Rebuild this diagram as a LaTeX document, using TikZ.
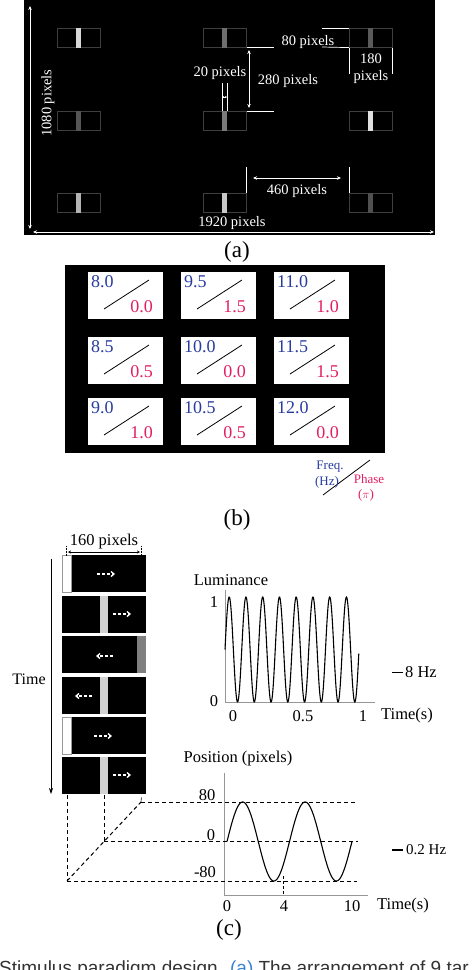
\documentclass[tikz,border=0pt]{standalone}
\usepackage{fontspec}
\setmainfont{Liberation Serif}
\newfontfamily\capfont{Liberation Sans}
\usetikzlibrary{arrows.meta}
\definecolor{freqblue}{RGB}{40,60,160}
\definecolor{phasepink}{RGB}{228,30,100}
\definecolor{axisgray}{RGB}{150,150,150}
\definecolor{boxline}{RGB}{62,62,62}
\definecolor{capblue}{RGB}{60,130,210}
\definecolor{barA}{RGB}{216,216,216}
\definecolor{barB}{RGB}{110,110,110}
\definecolor{barC}{RGB}{90,90,90}
\definecolor{barD}{RGB}{85,85,85}
\definecolor{barE}{RGB}{122,122,122}
\definecolor{barF}{RGB}{224,224,224}
\definecolor{barG}{RGB}{180,180,180}
\definecolor{barH}{RGB}{200,200,200}
\definecolor{barI}{RGB}{80,80,80}
\definecolor{lightbar}{RGB}{210,210,210}
\definecolor{midbar}{RGB}{128,128,128}
\begin{document}
\begin{tikzpicture}[x=1pt,y=-1pt,
  every node/.style={inner sep=0pt},
  wline/.style={white, line width=0.7pt},
  wdim/.style={white, line width=1pt, {Stealth[length=4pt,width=3.5pt]}-{Stealth[length=4pt,width=3.5pt]}},
  alab/.style={text=white, font=\fontsize{14.5}{16}\selectfont},
  stim/.style={draw=boxline, line width=0.6pt, minimum width=43pt, minimum height=19pt, fill=black},
  tgt/.style={fill=white, minimum width=75pt, minimum height=47pt},
  fq/.style={text=freqblue, font=\fontsize{18}{20}\selectfont, anchor=base west},
  ph/.style={text=phasepink, font=\fontsize{18}{20}\selectfont, anchor=base east},
  lg/.style={font=\fontsize{13}{14}\selectfont},
  stimframe/.style={fill=black, minimum width=84pt, minimum height=37pt},
  mv/.style={white, line width=1.3pt, dash pattern=on 3pt off 2pt, -{Straight Barb[length=3pt,width=5pt]}},
  clab/.style={font=\fontsize{16.5}{18}\selectfont},
  plab/.style={font=\fontsize{23}{24}\selectfont},
  ax/.style={axisgray, line width=0.8pt},
  dsh/.style={black, line width=1pt, dash pattern=on 4pt off 3pt},
]
\useasboundingbox (0,0) rectangle (474,970);
\fill[white] (0,0) rectangle (474,970);

% ---------------- panel (a)
\node[fill=black, anchor=north west, minimum width=411pt, minimum height=235pt] (screen) at (24,0) {};
\foreach \nm/\cx/\ry/\bc in {s1/57/28/barA, s2/203/28/barB, s3/349/28/barC,
                             s4/57/111/barD, s5/203/111/barE, s6/349/111/barF,
                             s7/57/193/barG, s8/203/193/barH, s9/349/193/barI}
{
  \node[stim, anchor=north west] (\nm) at (\cx,\ry) {};
  \draw[boxline, line width=0.6pt] (\nm.north) -- (\nm.south);
  \fill[\bc] ([xshift=-2.5pt]\nm.north) rectangle ([xshift=2.5pt]\nm.south);
}
\draw[wdim] (30,229) -- (30,6);
\node[alab, rotate=90] (h1080) at (48,103) {1080 pixels};
\draw[wdim] (33,232) -- (434,232);
\node[alab] (w1920) at (232,223) {1920 pixels};
% 80 pixels
\draw[wline] (322,28) -- (s3.north west);
\draw[wline] (322,47) -- (s3.south west);
\node[alab] (l80) at (308,42) {80 pixels};
% 180 pixels
\draw[wline] (s3.south west) -- ++(0,26);
\draw[wline] (s3.south east) -- ++(0,26);
\node[alab] (l180a) at (371,59) {180};
\node[alab] (l180b) at (371,77) {pixels};
% 280 pixels
\draw[wline] (s2.south east) -- ++(27,0);
\draw[wline] (s5.north east) -- ++(27,0);
\draw[wdim] (249,50) -- (249,108);
\node[alab] (l280) at (288,81) {280 pixels};
% 20 pixels
\draw[wline] (222,83) -- (222,111);
\draw[wline] (227,83) -- (227,111);
\draw[white, line width=0.6pt, {Stealth[length=2pt,width=2pt]}-{Stealth[length=2pt,width=2pt]}] (222,97) -- (227,97);
\node[alab] (l20) at (220,73) {20 pixels};
% 460 pixels
\draw[wline] (s8.north east) -- ++(0,-26);
\draw[wline] (s9.north west) -- ++(0,-26);
\draw[wdim] (253,178) -- (341,178);
\node[alab] (l460) at (297,191) {460 pixels};
\node[plab] (capa) at (237,252) {(a)};

% ---------------- panel (b)
\node[fill=black, anchor=north west, minimum width=320pt, minimum height=188pt] (board) at (65,265) {};
\foreach \nm/\lx/\ty/\fv/\pv in {t1/88/272/8.0/0.0, t2/181/272/9.5/1.5, t3/274/272/11.0/1.0,
                                 t4/88/337/8.5/0.5, t5/181/337/10.0/0.0, t6/274/337/11.5/1.5,
                                 t7/88/398/9.0/1.0, t8/181/398/10.5/0.5, t9/274/398/12.0/0.0}
{
  \node[tgt, anchor=north west] (\nm) at (\lx,\ty) {};
  \draw[line width=0.8pt] (\lx+16,\ty+37) -- (\lx+61,\ty+8);
  \node[fq] (\nm f) at (\lx+3,\ty+15) {\fv};
  \node[ph] (\nm p) at (\lx+65,\ty+40) {\pv};
}
\draw[line width=0.8pt] (323,495) -- (370,460);
\node[lg, text=freqblue] (lfreq) at (330,467) {Freq.};
\node[lg, text=freqblue] (lhz) at (327,482) {(Hz)};
\node[lg, text=phasepink] (lphase) at (369,479) {Phase};
\node[lg, text=phasepink] (lpi) at (366,495) {($\pi$)};
\node[plab] (capb) at (237,520) {(b)};

% ---------------- panel (c)
\foreach \nm/\ty in {f1/555, f2/596, f3/636, f4/677, f5/717, f6/757}
  \node[stimframe, anchor=north west] (\nm) at (62,\ty) {};
\filldraw[fill=white, draw=gray!80, line width=0.5pt] (f1.north west) rectangle ([xshift=9pt]f1.south west);
\fill[lightbar] ([xshift=-4pt]f2.north) rectangle ([xshift=4pt]f2.south);
\fill[midbar] ([xshift=-9pt]f3.north east) rectangle (f3.south east);
\fill[lightbar] ([xshift=-4pt]f4.north) rectangle ([xshift=4pt]f4.south);
\filldraw[fill=white, draw=gray!80, line width=0.5pt] (f5.north west) rectangle ([xshift=9pt]f5.south west);
\fill[lightbar] ([xshift=-4pt]f6.north) rectangle ([xshift=4pt]f6.south);
\draw[mv] (97,574) -- (115,574);
\draw[mv] (113,614) -- (131,614);
\draw[mv] (113,656) -- (96,656);
\draw[mv] (92,696) -- (75,696);
\draw[mv] (94,736) -- (112,736);
\draw[mv] (113,775) -- (131,775);
% time axis
\draw[line width=0.8pt, -{Stealth[length=6pt,width=4pt]}] (51,559) -- (51,794);
\node[font=\fontsize{16}{17}\selectfont] (ltime) at (29,679) {Time};
% 160 pixels
\draw[line width=0.6pt, {Stealth[length=3pt,width=3pt]}-{Stealth[length=3pt,width=3pt]}] (68,552) -- (140,552);
\draw[densely dotted, line width=0.5pt] (66,546) -- (66,556);
\draw[densely dotted, line width=0.5pt] (141,546) -- (141,556);
\node[clab] (l160) at (104,542) {160 pixels};

% luminance plot
\draw[ax] (225,590) -- (225,702) -- (375,702);
\draw[line width=1.1pt, domain=0:1, samples=400] plot ({225+134*\x},{649.5-52.5*sin(2880*\x)});
\node[clab] (llum) at (231,580) {Luminance};
\node[clab] (ly1) at (214,602) {1};
\node[clab] (ly0) at (214,701) {0};
\node[clab] (lx0) at (233,716) {0};
\node[clab] (lx05) at (303,716) {0.5};
\node[clab] (lx1) at (363,716) {1};
\node[clab] (lxt) at (407,716) {Time(s)};
\draw[line width=1pt] (392,672) -- (403,672);
\node[clab, anchor=west] (l8hz) at (405,672) {8 Hz};

% position plot
\draw[ax] (224,773) -- (224,895) -- (368,895);
\draw[dsh] (141,802) -- (355,802);
\draw[dsh] (104,841.5) -- (358,841.5);
\draw[dsh] (67,881) -- (357,881);
\draw[dsh] (f6.south west) ++(5,1) coordinate (dl) -- (67,881);
\draw[dsh] (104,795) -- (104,841.5);
\draw[dsh] (67,881) -- (141,802);
\draw[line width=0.6pt] (f6.south east) ++(-5,3) -- (141,802);
\draw[line width=1.1pt, domain=0:10, samples=300] plot ({227+12.5*\x},{841.5-39.5*sin(72*\x)});
\draw[black, line width=1pt, dash pattern=on 3pt off 2pt] (283,876) -- (283,895);
\node[clab] (lpos) at (238,759) {Position (pixels)};
\node[clab] (lp80) at (207,795) {80};
\node[clab] (lp0) at (211,835) {0};
\node[clab] (lpm80) at (205,872) {-80};
\node[clab] (lt0) at (227,906) {0};
\node[clab] (lt4) at (284,906) {4};
\node[clab] (lt10) at (352,906) {10};
\node[clab] (ltt) at (403,906) {Time(s)};
\draw[line width=1.3pt] (392,850) -- (403,850);
\node[font=\fontsize{15}{16}\selectfont, anchor=west] (l02hz) at (406,850) {0.2 Hz};
\node[plab] (capc) at (229,930) {(c)};

% caption (cut by the page edge)
\node[anchor=base west, font=\capfont\fontsize{19}{20}\selectfont, text=black!80] (cap) at (-1,974)
  {Stimulus paradigm design. \textcolor{capblue}{(a)} The arrangement of 9 tar};
\end{tikzpicture}
\end{document}
